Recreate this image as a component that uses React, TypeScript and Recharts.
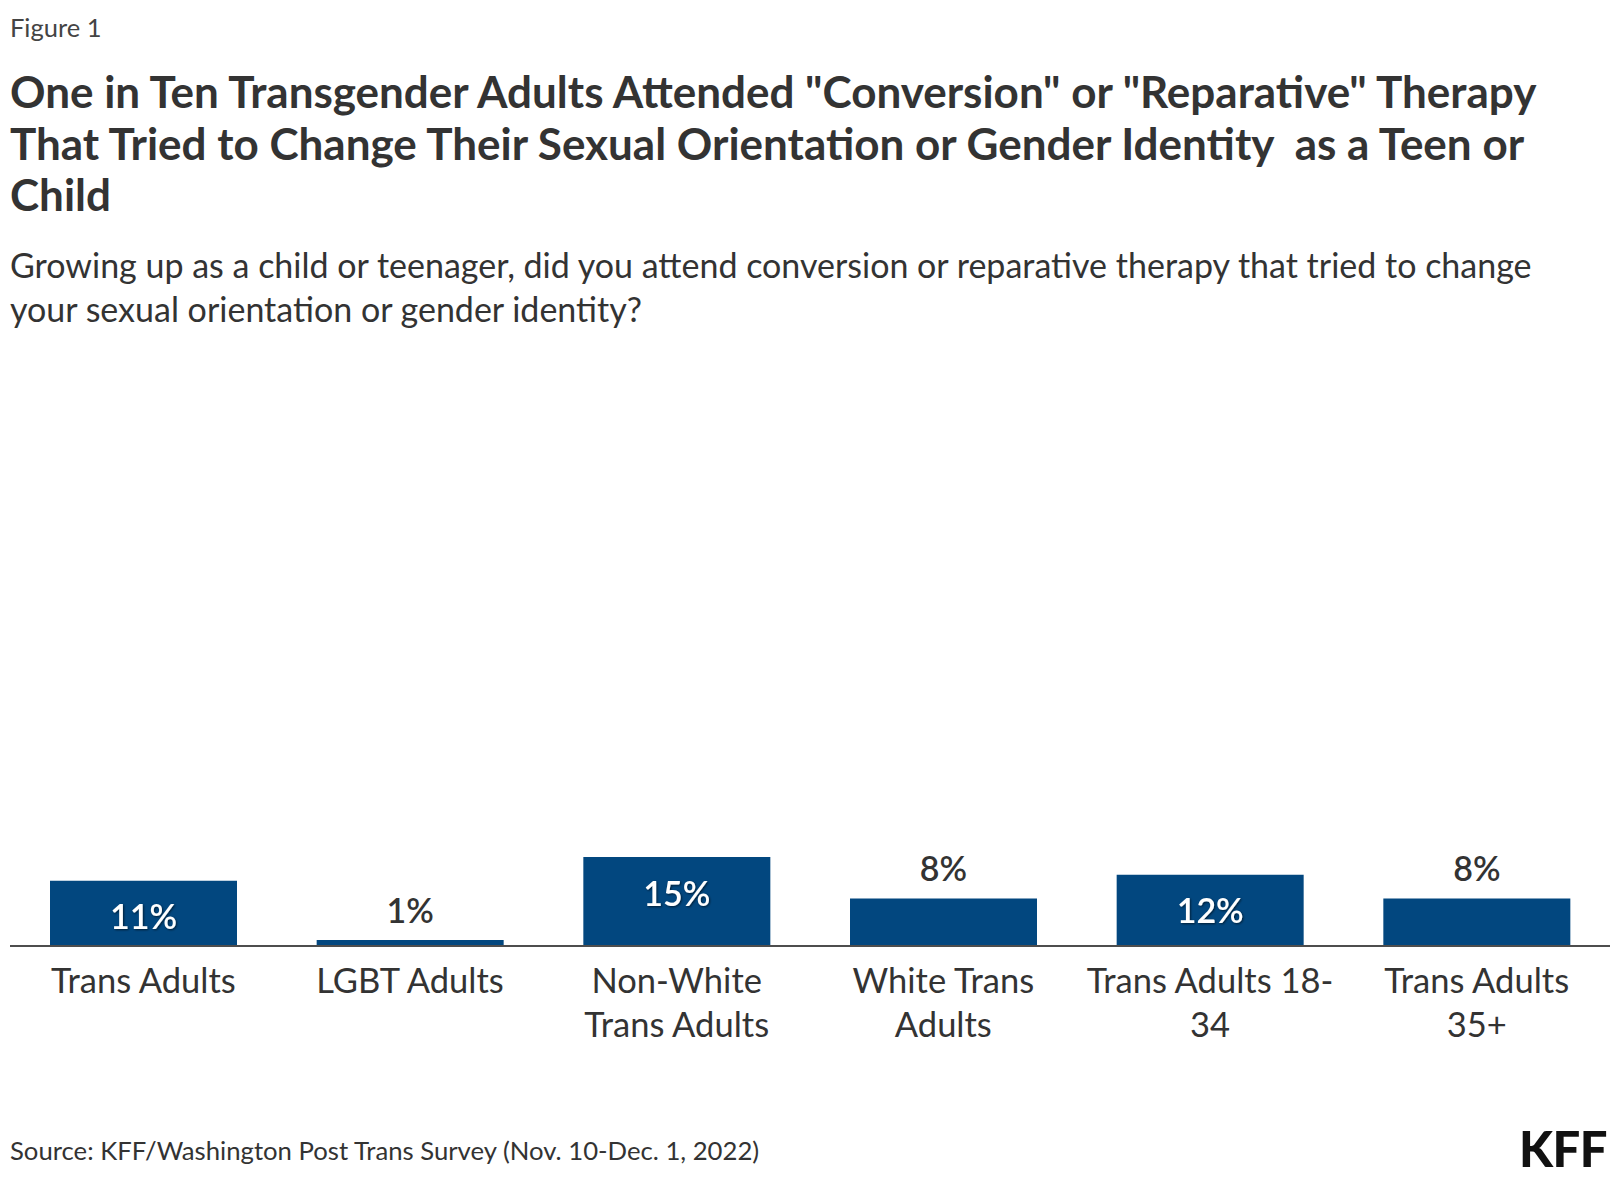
import React from "react";
import { BarChart, Bar, XAxis, YAxis, LabelList } from "recharts";

const categories = [
  "Trans Adults",
  "LGBT Adults",
  "Non-White Trans Adults",
  "White Trans Adults",
  "Trans Adults 18-34",
  "Trans Adults 35+",
];
const values = [11, 1, 15, 8, 12, 8];
const tickLabels = [
  ["Trans Adults"],
  ["LGBT Adults"],
  ["Non-White", "Trans Adults"],
  ["White Trans", "Adults"],
  ["Trans Adults 18-", "34"],
  ["Trans Adults", "35+"],
];
const titleLines = [
  'One in Ten Transgender Adults Attended "Conversion" or "Reparative" Therapy',
  "That Tried to Change Their Sexual Orientation or Gender Identity  as a Teen or",
  "Child",
];
const subtitleLines = [
  "Growing up as a child or teenager, did you attend conversion or reparative therapy that tried to change",
  "your sexual orientation or gender identity?",
];
const figureLabel = "Figure 1";
const sourceText = "Source: KFF/Washington Post Trans Survey (Nov. 10-Dec. 1, 2022)";
const logoText = "KFF";

const data = categories.map((c, i) => ({ name: c, value: values[i], idx: i }));

const FONT = "Lato, 'Noto Sans', sans-serif";
const TEXT = "#333333";
const BAR = "#02477f";

const Tick = (props: any) => {
  const { x, y, payload } = props;
  const lines = tickLabels[payload.index] || [payload.value];
  return (
    <g>
      {lines.map((l: string, i: number) => (
        <text
          key={i}
          x={x}
          y={y + 25 + i * 44}
          textAnchor="middle"
          dominantBaseline="central"
          fontFamily={FONT}
          fontSize={34.5}
          fill={TEXT}
        >
          {l}
        </text>
      ))}
    </g>
  );
};

const BarLabel = (props: any) => {
  const { x, y, width, value } = props;
  const inside = value >= 10;
  const cx = x + width / 2;
  const cy = inside ? y + 35 : y - 31;
  return (
    <g>
      <defs>
        <filter id="lblShadow" x="-20%" y="-20%" width="140%" height="140%">
          <feDropShadow dx="1" dy="1" stdDeviation="1" floodColor="#000" floodOpacity="0.6" />
        </filter>
      </defs>
      <text
        x={cx}
        y={cy}
        textAnchor="middle"
        dominantBaseline="central"
        fontFamily={FONT}
        fontSize={34}
        fontWeight={600}
        fill={inside ? "#ffffff" : TEXT}
        filter={inside ? "url(#lblShadow)" : undefined}
      >
        {value + "%"}
      </text>
    </g>
  );
};

export default function App() {
  return (
    <div
      style={{
        position: "absolute",
        left: 0,
        top: 0,
        width: 1620,
        height: 1178,
        background: "#fff",
        fontFamily: FONT,
        color: TEXT,
        overflow: "hidden",
      }}
    >
      <div style={{ position: "absolute", left: 10, top: 14, fontSize: 25.5, lineHeight: "26px", color: "#444" }}>
        {figureLabel}
      </div>
      <div style={{ position: "absolute", left: 10, top: 66, fontSize: 44, fontWeight: 700, lineHeight: "51.5px", whiteSpace: "pre" }}>
        {titleLines.map((l, i) => (
          <div key={i}>{l}</div>
        ))}
      </div>
      <div style={{ position: "absolute", left: 10, top: 243, fontSize: 34, lineHeight: "44px", whiteSpace: "pre" }}>
        {subtitleLines.map((l, i) => (
          <div key={i}>{l}</div>
        ))}
      </div>
      <div style={{ position: "absolute", left: 0, top: 340 }}>
        <BarChart
          width={1620}
          height={740}
          data={data}
          margin={{ top: 13, right: 10, left: 10, bottom: 14 }}
          barCategoryGap="15%"
        >
          <YAxis hide domain={[0, 100]} />
          <XAxis
            dataKey="name"
            interval={0}
            tickLine={false}
            axisLine={{ stroke: "#4d4d4d", strokeWidth: 2 }}
            tick={<Tick />}
            height={120}
          />
          <Bar dataKey="value" fill={BAR} isAnimationActive={false}>
            <LabelList dataKey="value" content={<BarLabel />} />
          </Bar>
        </BarChart>
      </div>
      <div style={{ position: "absolute", left: 10, top: 1137, fontSize: 25.7, lineHeight: "26px", color: TEXT }}>
        {sourceText}
      </div>
      <div
        style={{
          position: "absolute",
          right: 13,
          top: 1122,
          fontSize: 49,
          fontWeight: 900,
          lineHeight: "52px",
          color: "#111",
          letterSpacing: -0.5,
        }}
      >
        {logoText}
      </div>
    </div>
  );
}
